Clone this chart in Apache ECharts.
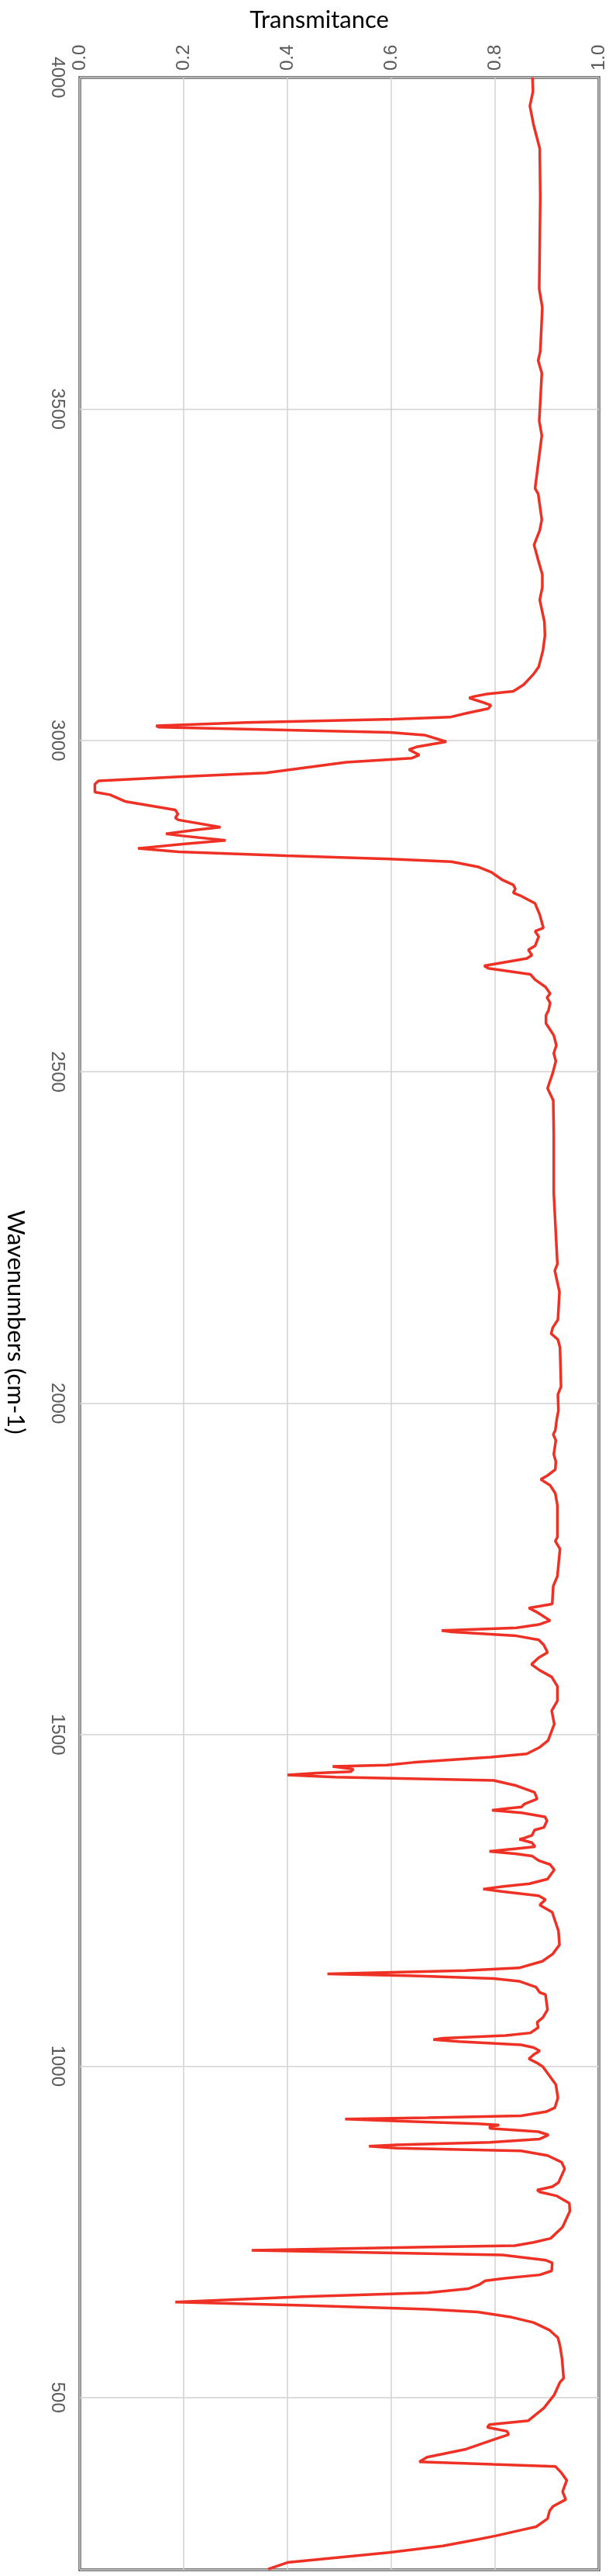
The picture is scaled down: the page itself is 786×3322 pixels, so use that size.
<!DOCTYPE html>
<html>
<head>
<meta charset="utf-8">
<script src="https://cdn.jsdelivr.net/npm/echarts@6/dist/echarts.min.js"></script>
<style>
html,body{margin:0;padding:0;background:#fff;}
#chart{width:786px;height:3322px;}
</style>
</head>
<body>
<div id="chart"></div>
<script>
// Wavenumbers (cm-1), from 4000 downwards
const wavenumbers = [
4000,3979,3957,3929,3893,3819,3681,3653,3587,3573,3554,3482,3460,3380,3372,3333,3317,3295,3272,3250,3231,3212,3179,3158,
3135,3111,3099,3084,3074,3070,3066,3064,3058,3053,3048,3041,3035,3032,3027,3022,3020,3012,3008,2998,2990,2986,2978,2973,
2967,2951,2945,2939,2934,2922,2918,2908,2895,2889,2883,2880,2869,2865,2859,2856,2849,2844,2837,2832,2826,2821,2817,2809,
2801,2790,2782,2776,2770,2766,2754,2737,2717,2712,2704,2690,2684,2676,2671,2660,2656,2647,2639,2628,2618,2612,2604,2593,
2585,2573,2555,2540,2528,2516,2498,2475,2457,2406,2317,2210,2200,2168,2126,2114,2105,2096,2084,2025,2013,1989,1977,1959,
1953,1944,1923,1912,1900,1891,1885,1876,1864,1846,1798,1792,1780,1739,1724,1697,1691,1685,1672,1666,1661,1657,1655,1649,
1643,1635,1624,1616,1606,1598,1587,1573,1551,1536,1516,1491,1481,1471,1466,1458,1454,1452,1448,1444,1442,1439,1436,1431,
1423,1413,1403,1395,1391,1388,1386,1382,1376,1370,1360,1356,1348,1344,1342,1337,1331,1328,1324,1320,1317,1310,1304,1296,
1282,1275,1271,1267,1263,1257,1251,1243,1232,1204,1183,1169,1158,1148,1144,1139,1136,1132,1128,1119,1111,1108,1085,1073,
1066,1058,1050,1046,1042,1040,1037,1032,1028,1023,1017,1011,1005,999,972,952,937,931,925,922,920,917,913,911,909,906,
901,896,890,885,881,879,876,872,865,855,845,824,818,813,810,804,793,781,757,740,734,729,727,722,718,715,707,703,
691,685,680,676,670,664,658,652,644,639,633,629,621,613,602,590,578,558,529,523,504,484,465,459,455,449,444,436,
422,410,403,399,396,387,375,358,346,336,329,317,305,301,291,286,276,266,251,241
];
// Transmittance (0-1)
const transmittance = [
0.872,0.873,0.867,0.874,0.886,0.887,0.885,0.891,0.887,0.883,0.890,0.885,0.890,0.877,0.883,0.890,0.886,0.875,0.883,0.891,0.891,0.886,0.895,0.896,
0.892,0.884,0.873,0.855,0.835,0.784,0.758,0.750,0.774,0.792,0.787,0.745,0.713,0.603,0.320,0.147,0.152,0.597,0.664,0.706,0.648,0.634,0.654,0.639,
0.513,0.358,0.190,0.036,0.029,0.029,0.058,0.087,0.184,0.189,0.184,0.190,0.271,0.223,0.166,0.197,0.281,0.203,0.112,0.190,0.397,0.597,0.716,0.768,
0.793,0.813,0.835,0.839,0.835,0.848,0.877,0.886,0.893,0.877,0.884,0.877,0.864,0.871,0.861,0.779,0.787,0.868,0.877,0.897,0.906,0.900,0.906,0.903,
0.898,0.898,0.913,0.918,0.913,0.917,0.911,0.901,0.912,0.913,0.913,0.920,0.915,0.924,0.921,0.911,0.908,0.921,0.925,0.927,0.921,0.922,0.919,0.916,
0.912,0.917,0.913,0.917,0.916,0.901,0.888,0.906,0.916,0.920,0.920,0.916,0.925,0.920,0.912,0.910,0.865,0.880,0.906,0.884,0.841,0.697,0.717,0.841,
0.884,0.894,0.901,0.884,0.870,0.884,0.909,0.920,0.920,0.909,0.914,0.902,0.886,0.861,0.792,0.642,0.592,0.487,0.527,0.522,0.457,0.400,0.492,0.797,
0.841,0.876,0.881,0.856,0.851,0.816,0.794,0.851,0.896,0.900,0.894,0.876,0.871,0.856,0.847,0.871,0.877,0.841,0.789,0.841,0.871,0.884,0.906,0.914,
0.901,0.866,0.816,0.777,0.816,0.884,0.897,0.886,0.910,0.922,0.924,0.911,0.891,0.846,0.742,0.477,0.642,0.797,0.846,0.879,0.886,0.897,0.901,0.892,
0.881,0.883,0.868,0.820,0.700,0.681,0.730,0.850,0.874,0.886,0.874,0.865,0.880,0.892,0.917,0.921,0.915,0.898,0.850,0.670,0.511,0.610,0.766,0.808,0.790,0.790,
0.883,0.903,0.886,0.790,0.610,0.557,0.610,0.850,0.901,0.928,0.934,0.922,0.910,0.881,0.886,0.919,0.943,0.944,0.930,0.907,0.874,0.838,0.670,0.331,0.610,0.814,0.898,0.910,
0.909,0.886,0.820,0.781,0.769,0.748,0.670,0.430,0.184,0.430,0.670,0.766,0.832,0.874,0.904,0.921,0.925,0.929,0.932,0.925,0.914,0.894,0.864,0.789,0.785,0.823,0.826,0.796,
0.744,0.669,0.654,0.796,0.916,0.927,0.938,0.930,0.936,0.912,0.905,0.901,0.879,0.856,0.800,0.767,0.699,0.595,0.400,0.363
];
const transmittanceTicks = ['0.0','0.2','0.4','0.6','0.8','1.0'];
const xTitle = 'Transmitance';
const yTitle = 'Wavenumbers (cm-1)';

const pairs = wavenumbers.map((w, i) => [transmittance[i], w]);

const chart = echarts.init(document.getElementById('chart'), null, {renderer: 'canvas'});
const tickFont = 'Liberation Sans, Arial, sans-serif';
chart.setOption({
  animation: false,
  backgroundColor: '#ffffff',
  grid: {left: 103, right: 13, top: 100, bottom: 8, show: true, borderColor: '#555555', borderWidth: 3.5, backgroundColor: 'transparent'},
  xAxis: {
    type: 'value', position: 'top', min: 0, max: 1, interval: 0.2,
    axisLine: {show: false}, axisTick: {show: false},
    axisLabel: {rotate: -90, margin: 9, color: '#5a5a5a', fontSize: 24, fontFamily: tickFont,
      formatter: v => transmittanceTicks[Math.round(v / 0.2)]},
    splitLine: {show: true, lineStyle: {color: '#d2d2d2', width: 1.5}}
  },
  yAxis: {
    type: 'value', min: 240, max: 4000, splitNumber: 8,
    axisLine: {show: false}, axisTick: {show: false},
    axisLabel: {rotate: -90, margin: 17, color: '#5a5a5a', fontSize: 24, fontFamily: tickFont, showMinLabel: false,
      formatter: v => String(v)},
    splitLine: {show: true, lineStyle: {color: '#d2d2d2', width: 1.5}}
  },
  graphic: [
    {type: 'text', x: 412, y: 26, style: {text: xTitle, fill: '#000', font: '31px Lato, sans-serif', align: 'center', verticalAlign: 'middle', textAlign: 'center', textVerticalAlign: 'middle'}},
    {type: 'text', x: 20, y: 1705, rotation: -Math.PI / 2, style: {text: yTitle, fill: '#000', font: '31px Lato, sans-serif', align: 'center', verticalAlign: 'middle', textAlign: 'center', textVerticalAlign: 'middle'}}
  ],
  series: [{
    type: 'line', data: pairs, showSymbol: false, symbol: 'none',
    lineStyle: {color: '#ee3124', width: 3.5}, itemStyle: {color: '#ee3124'},
    smooth: false, clip: true
  }]
});
</script>
</body>
</html>
